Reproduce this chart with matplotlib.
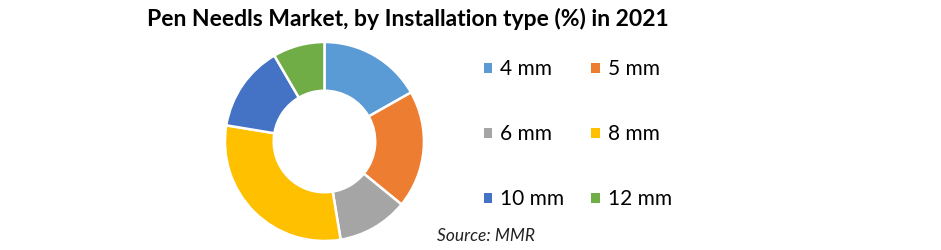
import matplotlib
matplotlib.use("Agg")
import matplotlib.pyplot as plt
from matplotlib.patches import Patch

labels = ['4 mm', '5 mm', '6 mm', '8 mm', '10 mm', '12 mm']
shares = [16.8, 19.1, 11.5, 30.2, 14.0, 8.4]
colors = ['#5B9BD5', '#ED7D31', '#A5A5A5', '#FFC000', '#4472C4', '#70AD47']

plt.rcParams['font.family'] = ['Lato', 'DejaVu Sans']

fig = plt.figure(figsize=(9.41, 2.5), dpi=100)
ax = fig.add_axes([0.238, 0.032, 0.2136, 0.804])

ax.pie(shares, colors=colors, startangle=90, counterclock=False,
       radius=1.0, wedgeprops=dict(width=0.49, edgecolor='white', linewidth=1.8))
ax.set_xlim(-1.01, 1.01)
ax.set_ylim(-1.01, 1.01)
ax.set_aspect('equal')

fig.text(0.433, 0.925, 'Pen Needls Market, by Installation type (%) in 2021',
         ha='center', va='center', fontsize=16.5, fontweight='bold', color='#000000')

# legend reads row by row in the reference, matplotlib fills columns first
order = [0, 2, 4, 1, 3, 5]
handles = [Patch(facecolor=colors[i], edgecolor='none') for i in order]
fig.legend(handles, [labels[i] for i in order], ncol=2, loc='upper left',
           bbox_to_anchor=(0.494, 0.838), frameon=False, fontsize=15,
           handlelength=0.4, handleheight=0.4, handletextpad=0.4,
           columnspacing=1.3, labelspacing=2.16)

fig.text(0.464, 0.055, 'Source: MMR', ha='left', va='center', fontsize=12.5,
         style='italic', color='#222222')

fig.savefig('out.png', dpi=100)
